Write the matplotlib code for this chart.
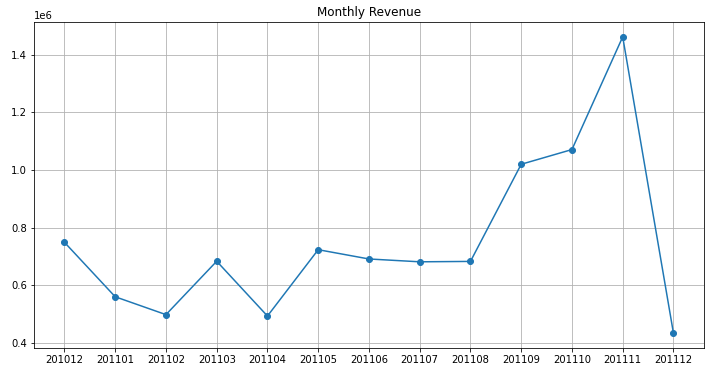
import matplotlib
matplotlib.use("Agg")
from matplotlib import pyplot as plt

months = ["201012", "201101", "201102", "201103", "201104", "201105", "201106",
          "201107", "201108", "201109", "201110", "201111", "201112"]
revenue = [748957, 560000, 498063, 683267, 493207, 723334, 691123,
           681300, 682681, 1019688, 1070705, 1461756, 433668]

fig, ax = plt.subplots(figsize=(719 / 72, 377 / 72), dpi=72)
plt.subplots_adjust(left=0.0473, right=0.979, top=0.9416, bottom=0.0769)

ax.plot(months, revenue, marker='o', color='#1f77b4')
ax.set_title("Monthly Revenue")
ax.grid(True)

plt.savefig("out.png")
